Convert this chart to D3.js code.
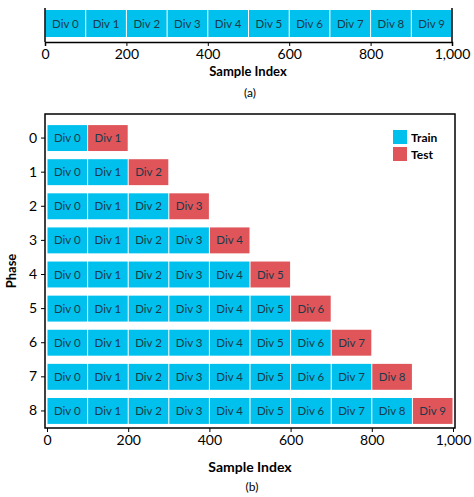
<!DOCTYPE html><html><head><script src="https://cdn.jsdelivr.net/npm/d3@7"></script>
<style>body{margin:0;background:#fff}text{font-family:Lato,"Open Sans",sans-serif}</style></head><body><svg id="c" width="474" height="497"></svg>
<script>
const divisions=["Div 0","Div 1","Div 2","Div 3","Div 4","Div 5","Div 6","Div 7","Div 8","Div 9"];
const divSize=100;
const phases=[0,1,2,3,4,5,6,7,8];
const xTicks=[0,200,400,600,800,1000];
const legend=["Train","Test"];
const cyan="#00c0ee", red="#df555a";
const svg=d3.select("#c");
// panel a
const xa=d3.scaleLinear().domain([0,1000]).range([45,452]);
const ga=svg.append("g");
ga.selectAll("rect").data(divisions).join("rect")
 .attr("x",(d,i)=>xa(i*divSize)+0.5).attr("width",(d,i)=>xa((i+1)*divSize)-xa(i*divSize)-1)
 .attr("y",10).attr("height",27).attr("fill",cyan);
ga.selectAll("text.l").data(divisions).join("text").attr("class","l")
 .attr("x",(d,i)=>xa(i*divSize+50)).attr("y",28).attr("text-anchor","middle").attr("font-size",11.5).attr("fill","#1a3a4a").text(d=>d);
ga.append("line").attr("x1",45).attr("x2",45).attr("y1",8).attr("y2",42).attr("stroke","#000").attr("stroke-width",1.5);
ga.append("line").attr("x1",452).attr("x2",452).attr("y1",8).attr("y2",42).attr("stroke","#000").attr("stroke-width",1.5);
const axA=ga.append("g").attr("transform","translate(0,42)").call(d3.axisBottom(xa).tickValues(xTicks).tickSize(4).tickPadding(3));
axA.select(".domain").attr("stroke-width",1.5);
axA.selectAll("text").attr("font-size",14).attr("fill","#000");
ga.append("text").attr("x",248).attr("y",76).attr("text-anchor","middle").attr("font-weight","bold").attr("font-size",13).text("Sample Index");
ga.append("text").attr("x",250).attr("y",97).attr("text-anchor","middle").attr("font-size",12).text("(a)");
// panel b
const xb=d3.scaleLinear().domain([0,1000]).range([47,453]);
const yb=d3.scaleBand().domain(phases).range([121,428]).paddingInner(0.24).paddingOuter(0.12);
const gb=svg.append("g");
gb.append("rect").attr("x",45).attr("y",114).attr("width",410).attr("height",314).attr("fill","none").attr("stroke","#000").attr("stroke-width",1.5);
phases.forEach(p=>{
 const cells=d3.range(p+2);
 const g=gb.append("g");
 g.selectAll("rect").data(cells).join("rect")
  .attr("x",i=>xb(i*divSize)+0.5).attr("width",i=>xb((i+1)*divSize)-xb(i*divSize)-1)
  .attr("y",yb(p)).attr("height",yb.bandwidth()).attr("fill",i=>i===p+1?red:cyan);
 g.selectAll("text").data(cells).join("text")
  .attr("x",i=>xb(i*divSize+50)).attr("y",yb(p)+yb.bandwidth()/2+4).attr("text-anchor","middle").attr("font-size",11.5).attr("fill","#1a3a4a").text(i=>divisions[i]);
});
const axX=gb.append("g").attr("transform","translate(0,428)").call(d3.axisBottom(xb).tickValues(xTicks).tickSize(4).tickPadding(3));
axX.select(".domain").remove();
axX.selectAll("text").attr("font-size",14).attr("fill","#000");
const axY=gb.append("g").attr("transform","translate(45,0)").call(d3.axisLeft(yb).tickSize(4).tickPadding(4));
axY.select(".domain").remove();
axY.selectAll("text").attr("font-size",14).attr("fill","#000");
gb.append("text").attr("x",250).attr("y",472).attr("text-anchor","middle").attr("font-weight","bold").attr("font-size",14).text("Sample Index");
gb.append("text").attr("x",252).attr("y",491).attr("text-anchor","middle").attr("font-size",12).text("(b)");
gb.append("text").attr("transform","translate(16,271) rotate(-90)").attr("text-anchor","middle").attr("font-weight","bold").attr("font-size",13).text("Phase");
const lg=gb.selectAll("g.lg").data(legend).join("g").attr("class","lg").attr("transform",(d,i)=>`translate(393,${130+i*17})`);
lg.append("rect").attr("width",14).attr("height",14).attr("fill",(d,i)=>i?red:cyan);
lg.append("text").attr("x",18).attr("y",11.5).attr("font-weight","bold").attr("font-size",12).text(d=>d);
</script></body></html>
